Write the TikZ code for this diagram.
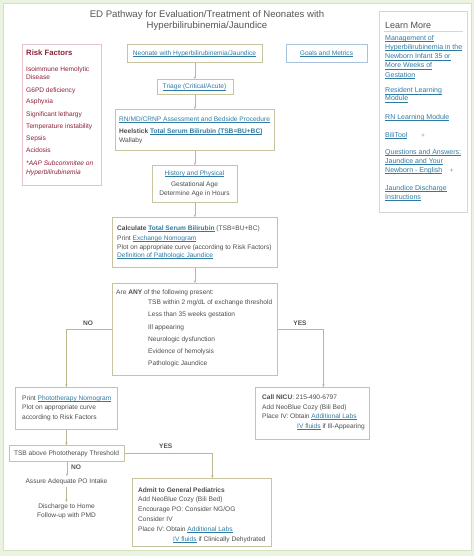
\documentclass[tikz,border=0pt]{standalone}
\usepackage{fontspec}
\setmainfont{Liberation Sans}
\usetikzlibrary{arrows.meta,shadows}
\definecolor{bgc}{HTML}{EAF2E0}
\definecolor{bgline}{HTML}{D3E2C4}
\definecolor{boxc}{HTML}{C9C4A0}
\definecolor{arrowc}{HTML}{BDB58F}
\definecolor{linkc}{HTML}{2F7AA3}
\definecolor{textc}{HTML}{4D4D4D}
\definecolor{titlec}{HTML}{555555}
\definecolor{riskc}{HTML}{8C2238}
\definecolor{riskbord}{HTML}{E6C3C8}
\definecolor{goalbord}{HTML}{A9C1DB}
\definecolor{learnbord}{HTML}{D6D6D6}
\newcommand\lk[1]{{\color{linkc}\setbox0\hbox{#1}\rlap{\rule[-1.1pt]{\wd0}{0.45pt}}\box0}}
\newcommand\fsz[1]{\fontsize{#1}{#1}\selectfont}
\begin{document}
\begin{tikzpicture}[x=1pt,y=-1pt,
  box/.style={draw=boxc, line width=0.8pt, fill=white, inner sep=0pt, anchor=north west,
    drop shadow={opacity=0.12, shadow xshift=0.8pt, shadow yshift=-0.8pt}},
  tx/.style={inner sep=0pt, anchor=base west, text=textc, font=\fsz{6.6}},
  txc/.style={tx, anchor=base},
  rt/.style={inner sep=0pt, anchor=base west, text=riskc, font=\fsz{6.6}},
  lm/.style={inner sep=0pt, anchor=base west, font=\fsz{7}},
  lab/.style={inner sep=0pt, anchor=base, text=titlec, font=\bfseries\fsz{6.6}},
  conn/.style={draw=arrowc, line width=0.7pt},
  arr/.style={conn, -{Stealth[length=2.6pt,width=2.4pt]}}]
\useasboundingbox (0,0) rectangle (474,556);
\fill[bgc] (0,0) rectangle (474,556);
\filldraw[fill=white, draw=bgline, line width=0.6pt] (3,3) rectangle (471,550);

% title
\node[inner sep=0pt, anchor=base, font=\fsz{9.6}, text=titlec] (title1) at (207,17.3) {ED Pathway for Evaluation/Treatment of Neonates with};
\node[inner sep=0pt, anchor=base, font=\fsz{9.6}, text=titlec] (title2) at (207,28.8) {Hyperbilirubinemia/Jaundice};

% risk factors
\node[draw=riskbord, line width=0.8pt, fill=white, inner sep=0pt, anchor=north west,
  minimum width=79pt, minimum height=141pt] (risk) at (22,44) {};
\node[rt, font=\bfseries\fsz{7.7}] (riskh) at (26,55.3) {Risk Factors};
\foreach \yy/\txt [count=\i] in {71.6/Isoimmune Hemolytic, 79.6/Disease, 92.3/G6PD deficiency,
  104/Asphyxia, 116.3/Significant lethargy, 128.3/Temperature instability, 140.6/Sepsis, 152.6/Acidosis}
  \node[rt] (riskt\i) at (26,\yy) {\txt};
\node[rt, font=\itshape\fsz{6.6}] (riska) at (26,165.6) {*AAP Subcommitee on};
\node[rt, font=\itshape\fsz{6.6}] (riskb) at (26,174.5) {Hyperbilirubinemia};

% learn more
\node[draw=learnbord, line width=0.8pt, fill=white, inner sep=0pt, anchor=north west,
  minimum width=88pt, minimum height=201pt] (learn) at (379,11) {};
\node[inner sep=0pt, anchor=base west, font=\fsz{9}, text=textc] (learnh) at (385,28.3) {Learn More};
\draw[learnbord, line width=0.6pt] (384,31.5) -- (463,31.5);
\foreach \yy/\txt [count=\i] in {40.7/Management of, 49.7/Hyperbilirubinemia in the, 59/Newborn Infant 35 or,
  68/More Weeks of, 77.4/Gestation, 93/Resident Learning, 100.9/Module, 119.7/RN Learning Module,
  137.4/BiliTool, 154/Questions and Answers:, 163.6/Jaundice and Your, 172.4/Newborn - English,
  190.7/Jaundice Discharge, 199/Instructions}
  \node[lm] (lmt\i) at (385,\yy) {\lk{\txt}};
\node[inner sep=0pt, anchor=base, font=\fsz{6}, text=gray] (plus1) at (423,137.4) {+};
\node[inner sep=0pt, anchor=base, font=\fsz{6}, text=gray] (plus2) at (451.6,172.4) {+};

% main flow boxes
\node[box, minimum width=135pt, minimum height=18pt] (neo) at (127,44) {};
\node[txc] (neot) at (194.5,55.6) {\lk{Neonate with Hyperbilirubinemia/Jaundice}};
\node[box, draw=goalbord, minimum width=81pt, minimum height=18pt] (goals) at (286,44) {};
\node[txc] (goalst) at (326.5,55.6) {\lk{Goals and Metrics}};
\node[box, minimum width=76pt, minimum height=15pt] (tri) at (156.5,79) {};
\node[txc] (trit) at (194.5,89) {\lk{Triage (Critical/Acute)}};

\node[box, minimum width=159pt, minimum height=41pt] (rn) at (115,109) {};
\node[tx] (rn1) at (119,121.3) {\lk{RN/MD/CRNP Assessment and Bedside Procedure}};
\node[tx] (rn2) at (119,133.3) {\textbf{Heelstick} \textbf{\lk{Total Serum Bilirubin (TSB=BU+BC)}}};
\node[tx] (rn3) at (119,142.6) {Wallaby};

\node[box, minimum width=85pt, minimum height=37pt] (hist) at (152,165) {};
\node[txc] (hist1) at (194.5,175.6) {\lk{History and Physical}};
\node[txc] (hist2) at (194.5,186) {Gestational Age};
\node[txc] (hist3) at (194.5,195) {Determine Age in Hours};

\node[box, minimum width=165pt, minimum height=50pt] (calc) at (112,217) {};
\node[tx] (calc1) at (117,230) {\textbf{Calculate} \textbf{\lk{Total Serum Bilirubin}} (TSB=BU+BC)};
\node[tx] (calc2) at (117,240) {Print \lk{Exchange Nomogram}};
\node[tx] (calc3) at (117,249) {Plot on appropriate curve (according to Risk Factors)};
\node[tx] (calc4) at (117,257.3) {\lk{Definition of Pathologic Jaundice}};

\node[box, minimum width=165pt, minimum height=92pt] (any) at (112,283) {};
\node[tx] (anyh) at (116,294) {Are \textbf{ANY} of the following present:};
\foreach \yy/\txt [count=\i] in {304.6/{TSB within 2 mg/dL of exchange threshold}, 316.6/{Less than 35 weeks gestation},
  329/{Ill appearing}, 341/{Neurologic dysfunction}, 353.3/{Evidence of hemolysis}, 365.6/{Pathologic Jaundice}}
  \node[tx] (anyt\i) at (148,\yy) {\txt};

\node[lab] (no1) at (88,325.5) {NO};
\node[lab] (yes1) at (300,325.5) {YES};

\node[box, minimum width=102pt, minimum height=42pt] (photo) at (15,387) {};
\node[tx] (photo1) at (22,400.6) {Print \lk{Phototherapy Nomogram}};
\node[tx] (photo2) at (22,409.8) {Plot on appropriate curve};
\node[tx] (photo3) at (22,419) {according to Risk Factors};

\node[box, minimum width=114pt, minimum height=52pt] (nicu) at (255,387) {};
\node[tx] (nicu1) at (262,399.5) {\textbf{Call NICU}: 215-490-6797};
\node[tx] (nicu2) at (262,409) {Add NeoBlue Cozy (Bili Bed)};
\node[tx] (nicu3) at (262,418.5) {Place IV: Obtain \lk{Additional Labs}};
\node[tx] (nicu4) at (297,428) {\lk{IV fluids} if Ill-Appearing};

\node[box, minimum width=115pt, minimum height=16pt] (tsb) at (9,445) {};
\node[txc] (tsbt) at (66.5,455.3) {TSB above Phototherapy Threshold};

\node[lab] (yes2) at (165.7,448) {YES};
\node[lab] (no2) at (76,469) {NO};

\node[inner sep=2pt, anchor=base, text=textc, font=\fsz{6.6}] (assure) at (66.5,483) {Assure Adequate PO Intake};
\node[inner sep=2pt, anchor=north, align=center, text=textc, font=\fontsize{6.6}{8.6}\selectfont] (dis) at (66.5,502) {Discharge to Home\\Follow-up with PMD};

\node[box, minimum width=139pt, minimum height=68pt] (admit) at (132,478) {};
\node[tx] (adm1) at (138,492.3) {\textbf{Admit to General Pediatrics}};
\node[tx] (adm2) at (138,501.8) {Add NeoBlue Cozy (Bili Bed)};
\node[tx] (adm3) at (138,511.6) {Encourage PO: Consider NG/OG};
\node[tx] (adm4) at (138,521.4) {Consider IV};
\node[tx] (adm5) at (138,531.2) {Place IV: Obtain \lk{Additional Labs}};
\node[tx] (adm6) at (173,541) {\lk{IV fluids} if Clinically Dehydrated};

% connectors
\draw[arr] (neo.south) -- (tri.north);
\draw[arr] (tri.south) -- (rn.north);
\draw[arr] (rn.south) -- (hist.north);
\draw[arr] (hist.south) -- (calc.north);
\draw[arr] (calc.south) -- (any.north);
\draw[arr] (any.west) -| (photo.north);
\draw[arr] (any.east) -| ([xshift=11pt]nicu.north);
\draw[arr] (photo.south) -- (photo.south |- tsb.north);
\draw[arr] (tsb.east) -| ([xshift=10.5pt]admit.north);
\draw[arr] (tsb.south) -- (tsb.south |- assure.north);
\draw[arr] (assure.south) -- (dis.north);
\end{tikzpicture}
\end{document}
